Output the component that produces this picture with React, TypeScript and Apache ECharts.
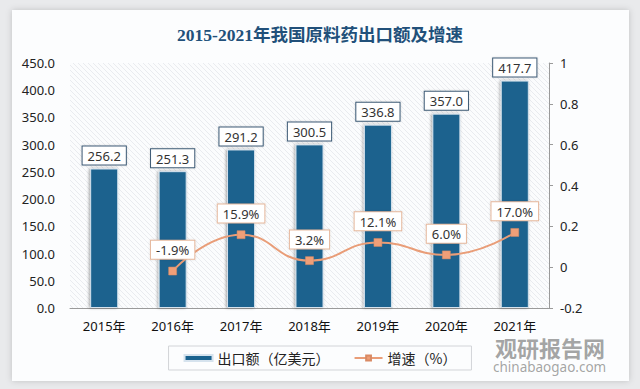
import React, { useEffect, useRef } from "react";
import * as echarts from "echarts";

const years = ["2015年", "2016年", "2017年", "2018年", "2019年", "2020年", "2021年"];
const exportValues = [256.2, 251.3, 291.2, 300.5, 336.8, 357.0, 417.7];
const growthPct: (number | null)[] = [null, -1.9, 15.9, 3.2, 12.1, 6.0, 17.0];
const leftTicks = { min: 0, max: 450, interval: 50 };
const rightTicks = { min: -0.2, max: 1, interval: 0.2 };

const TITLE = "2015-2021年我国原料药出口额及增速";
const SERIES_BAR = "出口额（亿美元）";
const SERIES_LINE = "增速（%）";

const GRID = { left: 70, right: 91, top: 63, bottom: 81 };
const W = 640;
const H = 389;

function makeHatch(): HTMLCanvasElement {
  const c = document.createElement("canvas");
  c.width = 5;
  c.height = 5;
  const ctx = c.getContext("2d")!;
  ctx.fillStyle = "#fbfcfd";
  ctx.fillRect(0, 0, 5, 5);
  ctx.strokeStyle = "#e9ebef";
  ctx.lineWidth = 1;
  ctx.beginPath();
  ctx.moveTo(-1, -1);
  ctx.lineTo(6, 6);
  ctx.moveTo(-1, 4);
  ctx.lineTo(1, 6);
  ctx.moveTo(4, -1);
  ctx.lineTo(6, 1);
  ctx.stroke();
  return c;
}

export default function App() {
  const ref = useRef<HTMLDivElement>(null);
  useEffect(() => {
    document.body.style.margin = "0";
    if (!ref.current) return;
    const chart = echarts.init(ref.current, undefined, { renderer: "svg" });
    let hatchFill: any = "#f6f7f9";
    try {
      hatchFill = { image: makeHatch(), repeat: "repeat" };
    } catch (e) {
      hatchFill = "#f6f7f9";
    }
    const numFont = "'Noto Sans', 'Noto Sans CJK SC', sans-serif";
    chart.setOption({
      animation: false,
      backgroundColor: "#e9eaec",
      graphic: [
        {
          type: "rect",
          z: -10,
          shape: { x: 12, y: 10, width: 617, height: 371 },
          style: {
            fill: "#fcfdfe",
            shadowBlur: 6,
            shadowColor: "rgba(0,0,0,0.18)",
          },
        },
        {
          type: "rect",
          z: -5,
          shape: {
            x: GRID.left,
            y: GRID.top,
            width: W - GRID.left - GRID.right,
            height: H - GRID.top - GRID.bottom,
          },
          style: { fill: hatchFill },
        },
        {
          type: "text",
          z: 100,
          left: 495,
          top: 336,
          style: {
            text: "观研报告网",
            font: "bold 22px 'Noto Sans CJK SC', sans-serif",
            lineHeight: 22,
            fill: "rgba(125,125,125,0.7)",
          },
        },
        {
          type: "text",
          z: 100,
          left: 493,
          top: 360,
          style: {
            text: "chinabaogao.com",
            font: "13.5px 'Noto Sans', sans-serif",
            lineHeight: 14,
            fill: "rgba(125,125,125,0.7)",
          },
        },
      ],
      title: {
        text: TITLE,
        left: "center",
        top: 21,
        textStyle: {
          fontFamily: "'Liberation Serif', 'Noto Sans CJK SC', serif",
          fontWeight: "bold",
          fontSize: 17.5,
          color: "#21507a",
        },
      },
      legend: {
        left: "center",
        top: 346,
        padding: [5, 15, 5, 15],
        borderColor: "#d2d4d8",
        borderWidth: 1,
        itemGap: 24,
        itemWidth: 28,
        itemHeight: 6,
        textStyle: {
          fontFamily: "'Noto Sans CJK SC', sans-serif",
          fontSize: 14,
          color: "#222",
        },
        data: [
          { name: SERIES_BAR, icon: "rect" },
          { name: SERIES_LINE },
        ],
      },
      grid: { ...GRID, containLabel: false },
      xAxis: {
        type: "category",
        data: years,
        axisLine: { lineStyle: { color: "#9a9a9a", width: 1 } },
        axisTick: { show: false },
        axisLabel: {
          color: "#111",
          fontSize: 13,
          margin: 11,
          lineHeight: 14,
          fontFamily: numFont,
        },
      },
      yAxis: [
        {
          type: "value",
          min: leftTicks.min,
          max: leftTicks.max,
          interval: leftTicks.interval,
          splitLine: { show: false },
          axisLine: { show: false },
          axisTick: { show: false },
          axisLabel: {
            color: "#222",
            fontSize: 13,
            margin: 15,
            fontFamily: numFont,
            formatter: (v: number) => v.toFixed(1),
          },
        },
        {
          type: "value",
          min: rightTicks.min,
          max: rightTicks.max,
          interval: rightTicks.interval,
          splitLine: { show: false },
          axisLine: { show: true, lineStyle: { color: "#9a9a9a" } },
          axisTick: { show: true, length: 4, lineStyle: { color: "#9a9a9a" } },
          axisLabel: {
            color: "#222",
            fontSize: 13,
            margin: 11,
            fontFamily: numFont,
            formatter: (v: number) => String(Math.round(v * 10) / 10),
          },
        },
      ],
      series: [
        {
          name: SERIES_BAR,
          type: "bar",
          data: exportValues,
          barWidth: "41%",
          itemStyle: {
            color: "#1a628e",
            borderColor: "#d6e3ee",
            borderWidth: 1,
            shadowColor: "rgba(0,0,0,0.35)",
            shadowBlur: 3,
            shadowOffsetX: -1,
          },
          label: {
            show: true,
            position: "top",
            distance: 4,
            formatter: (p: any) => Number(p.value).toFixed(1),
            color: "#333",
            fontSize: 13,
            fontFamily: numFont,
            backgroundColor: "#ffffff",
            borderColor: "#3e5b76",
            borderWidth: 1,
            padding: [3, 5, 2, 5],
            shadowColor: "rgba(0,0,0,0.15)",
            shadowBlur: 2,
          },
        },
        {
          name: SERIES_LINE,
          type: "line",
          yAxisIndex: 1,
          smooth: true,
          data: growthPct.map((v) => (v === null ? null : v / 100)),
          symbol: "rect",
          symbolSize: 8,
          lineStyle: { color: "#e99d78", width: 2 },
          itemStyle: { color: "#ef9f78", borderColor: "#d98a64", borderWidth: 0.5 },
          label: {
            show: true,
            position: "top",
            distance: 8,
            formatter: (p: any) => (p.value == null ? "" : (p.value * 100).toFixed(1) + "%"),
            color: "#333",
            fontSize: 13,
            fontFamily: numFont,
            backgroundColor: "#ffffff",
            borderColor: "#e6b89d",
            borderWidth: 1,
            padding: [3, 5, 2, 5],
            shadowColor: "rgba(0,0,0,0.12)",
            shadowBlur: 2,
          },
        },
      ],
    });
    return () => chart.dispose();
  }, []);
  return <div ref={ref} style={{ width: W, height: H }} />;
}
